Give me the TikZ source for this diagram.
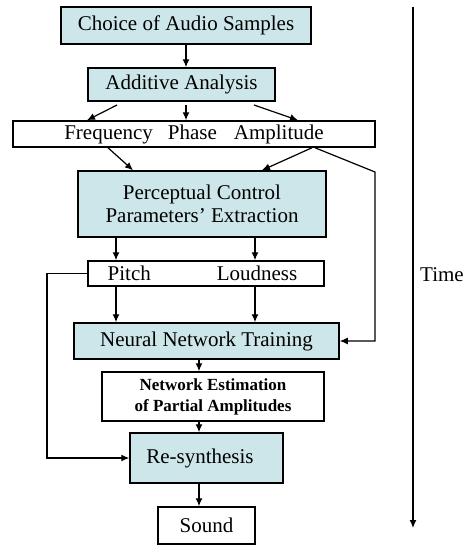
\documentclass[tikz,border=0pt]{standalone}
\usepackage{fontspec}
\setmainfont{Liberation Serif}
\usetikzlibrary{arrows.meta}
\definecolor{boxblue}{RGB}{205,230,233}
\begin{document}
\begin{tikzpicture}[x=1pt,y=-1pt,
  box/.style={draw=black,line width=1.5pt,inner sep=0pt,align=center,font=\fontsize{21}{23}\selectfont},
  bluebox/.style={box,fill=boxblue},
  whitebox/.style={box,fill=white},
  arr/.style={-{Latex[length=8pt,width=7pt]},line width=1.2pt},
  ln/.style={line width=1.2pt}]
\useasboundingbox (0,0) rectangle (474,558);
\fill[white] (0,0) rectangle (474,558);
\node[bluebox,minimum width=250pt,minimum height=37pt] (b1) at (186,25.5) {Choice of Audio Samples};
\node[bluebox,minimum width=187pt,minimum height=33pt] (b2) at (181.5,84.5) {Additive Analysis};
\node[whitebox,minimum width=362pt,minimum height=26pt] (b3) at (194,134) {Frequency\hspace{15pt}Phase\hspace{17pt}Amplitude};
\node[bluebox,minimum width=248pt,minimum height=66pt] (b4) at (202,204) {Perceptual Control\\Parameters' Extraction};
\node[whitebox,minimum width=236pt,minimum height=25pt] (b5) at (206,273.5) {\hspace{-7pt}Pitch\hspace{66pt}Loudness};
\node[bluebox,minimum width=265pt,minimum height=36pt] (b6) at (206.5,341) {Neural Network Training};
\node[whitebox,minimum width=222pt,minimum height=49pt,font=\fontsize{17}{21}\selectfont\bfseries] (b7) at (213,396.5) {Network Estimation\\of Partial Amplitudes};
\node[bluebox,minimum width=153pt,minimum height=50pt] (b8) at (206.5,458) {\hspace{-13pt}Re-synthesis};
\node[whitebox,minimum width=97pt,minimum height=37pt] (b9) at (206.5,525.5) {Sound};
% arrows
\draw[arr] (b1.south) -- (b1.south |- b2.north);
\coordinate (a1) at (117,105);
\coordinate (a2) at (186,105);
\coordinate (a3) at (254,105);
\draw[arr] (a1) -- (87,0 |- b3.north);
\draw[arr] (a2) -- (186,0 |- b3.north);
\draw[arr] (a3) -- (298,0 |- b3.north);
\draw[arr] (108,0 |- b3.south) -- (133,0 |- b4.north);
\draw[arr] (312,0 |- b3.south) -- (262,0 |- b4.north);
\coordinate (c1) at (375,172);
\draw[arr] (315,0 |- b3.south) -- (c1) -- (c1 |- b6.east) -- (b6.east);
\draw[arr] (116,0 |- b4.south) -- (116,0 |- b5.north);
\draw[arr] (255,0 |- b4.south) -- (255,0 |- b5.north);
\draw[arr] (116,0 |- b5.south) -- (116,0 |- b6.north);
\draw[arr] (255,0 |- b5.south) -- (255,0 |- b6.north);
\coordinate (p1) at (47,0);
\draw[arr] (b5.west) -- (p1 |- b5.west) -- (p1 |- b8.west) -- (b8.west);
\draw[arr] (199,0 |- b6.south) -- (199,0 |- b7.north);
\draw[arr] (199,0 |- b7.south) -- (199,0 |- b8.north);
\draw[arr] (199,0 |- b8.south) -- (199,0 |- b9.north);
% time axis
\coordinate (t0) at (413,7);
\coordinate (t1) at (413,528);
\draw[arr] (t0) -- (t1);
\node[font=\fontsize{21}{23}\selectfont] (time) at (442,275) {Time};
\end{tikzpicture}
\end{document}
